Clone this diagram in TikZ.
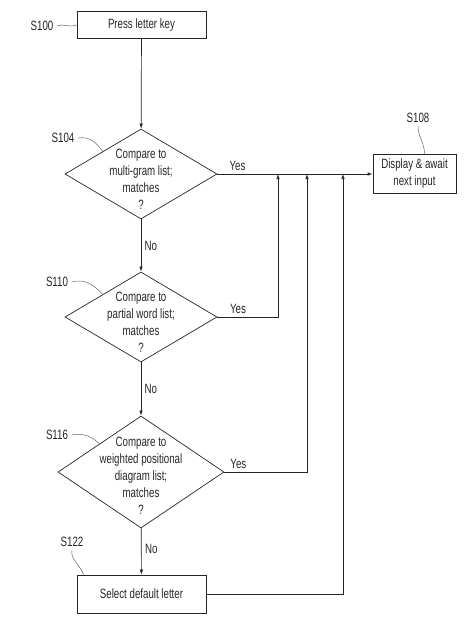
\documentclass[tikz,border=0pt]{standalone}
\usepackage{fontspec}
\setmainfont{Liberation Sans}[FakeStretch=0.72]
\usetikzlibrary{shapes.geometric,arrows.meta}
\tikzset{
	stepbox/.style={draw, minimum width=129pt, inner sep=0pt, align=center},
	decision/.style={draw, diamond, inner sep=0pt, minimum width=152pt, minimum height=90pt},
	flow/.style={-{Latex[length=5pt,width=3.5pt]}},
	wiggle/.style={line width=0.5pt, black!60},
}
\begin{document}
\begin{tikzpicture}[x=1pt, y=-1pt, line width=0.7pt, color=black!85, font=\fontsize{13.5}{17}\selectfont]
	\useasboundingbox (0,0) rectangle (474,642);
	
	%steps
	\node[stepbox, minimum height=27pt] (press) at (141.5,25) {Press letter key};
	\node[decision, label={[align=center, yshift=-5pt]center:{Compare to\\multi-gram list;\\matches\\?}}] (multi) at (141,174) {};
	\node[decision, label={[align=center, yshift=-5pt]center:{Compare to\\partial word list;\\matches\\?}}] (partial) at (141,317) {};
	\node[decision, minimum width=166pt, minimum height=112pt, label={[align=center, yshift=-4pt]center:{Compare to\\weighted positional\\diagram list;\\matches\\?}}] (weighted) at (141,472) {};
	\node[stepbox, minimum height=38pt] (default) at (141.5,594) {Select default letter};
	\node[stepbox, minimum width=83pt, minimum height=39pt] (display) at (414.5,174) {Display \& await\\next input};
	
	%step numbers
	\node (t100) at (42,26) {S100};
	\node (t104) at (63,138) {S104};
	\node (t110) at (57,282) {S110};
	\node (t116) at (57,435) {S116};
	\node (t122) at (72,542) {S122};
	\node (t108) at (418,118) {S108};
	\draw[wiggle] (t100.east) .. controls +(6,-3) and +(-8,3) .. (press.west);
	\draw[wiggle] (t104.east) .. controls +(12,-2) and +(-6,-8) .. (multi.north west);
	\draw[wiggle] (t110.east) .. controls +(14,-4) and +(-8,-8) .. (partial.north west);
	\draw[wiggle] (t116.east) .. controls +(12,-3) and +(-6,-6) .. (weighted.north west);
	\draw[wiggle] (t122.south) .. controls +(-2,8) and +(-4,-10) .. ([xshift=7pt]default.north west);
	\draw[wiggle] (t108.south) .. controls +(0,10) and +(0,-12) .. ([xshift=10pt]display.north);
	
	%joins on the yes line
	\coordinate (j1) at (278,174);
	\coordinate (j2) at (307,174);
	\coordinate (j3) at (343,174);
	
	%no branch
	\draw[flow] (press) -- (multi);
	\draw[flow] (multi) -- node[right] {No} (partial);
	\draw[flow] (partial) -- node[right] {No} (weighted);
	\draw[flow] (weighted) -- node[right, pos=0.45] {No} (default);
	
	%yes branch
	\draw[flow] (multi.east) -- node[above, pos=0.13] {Yes} (display.west);
	\draw[flow] (partial.east) -| node[above, pos=0.17] {Yes} (j1);
	\draw[flow] (weighted.east) -| node[above, pos=0.085] {Yes} (j2);
	\draw[flow] (default.east) -| (j3);
\end{tikzpicture}
\end{document}
